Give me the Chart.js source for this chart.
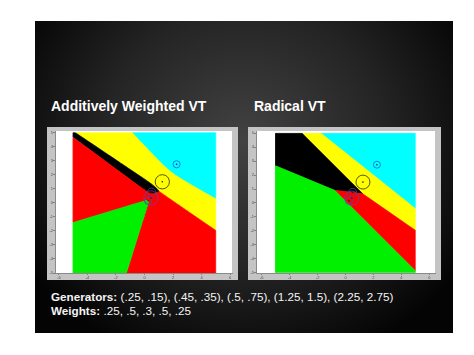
<!DOCTYPE html>
<html><head><meta charset="utf-8">
<script src="https://cdn.jsdelivr.net/npm/chart.js@4.4.1/dist/chart.umd.min.js"></script>
<style>
html,body{margin:0;padding:0;background:#fff;width:474px;height:355px;overflow:hidden;position:relative;}
#slide{position:absolute;left:35px;top:21px;width:418px;height:312px;
 background:radial-gradient(ellipse 62% 75% at 50% 38%, #424242 0%, #242424 55%, #040404 100%);}
.t{position:absolute;color:#fff;font-family:"Liberation Sans",Arial,sans-serif;white-space:nowrap;}
.title{font-weight:bold;font-size:14px;line-height:14px;}
.cap{font-size:11.7px;line-height:14px;color:#f4f4f4;}
canvas{position:absolute;}
</style></head>
<body>
<div id="slide"></div>
<div class="t title" style="left:51px;top:99px;">Additively Weighted VT</div>
<div class="t title" style="left:254px;top:99px;">Radical VT</div>
<div class="t cap" style="left:51px;top:289.6px;"><b>Generators:</b> (.25, .15), (.45, .35), (.5, .75), (1.25, 1.5), (2.25, 2.75)<br><b>Weights:</b> .25, .5, .3, .5, .25</div>
<canvas id="cA" width="191" height="153" style="left:47px;top:127px;"></canvas>
<canvas id="cB" width="193" height="153" style="left:248px;top:127px;"></canvas>
<script>
// ---- data ----
const genX = [0.25, 0.45, 0.5, 1.25, 2.25];
const genY = [0.15, 0.35, 0.75, 1.5, 2.75];
const weights = [0.25, 0.5, 0.3, 0.5, 0.25];
const regionColors = ['#00f000', '#ff0000', '#000000', '#ffff00', '#00ffff'];
const circleColors = ['#4a4ac0', '#7040a0', '#504098', '#2a2a10', '#2a5ae0'];
const xTicks = [-6, -4, -2, 0, 2, 4, 6];
const yTicks = [-5, -4, -3, -2, -1, 0, 1, 2, 3, 4, 5];
const domainMin = -5, domainMax = 5;

// ---- geometry from generators + weights ----
function awOwner(x, y) {
  let best = 0, bv = Infinity;
  for (let i = 0; i < genX.length; i++) {
    const v = Math.hypot(x - genX[i], y - genY[i]) - weights[i];
    if (v < bv) { bv = v; best = i; }
  }
  return best;
}
function rayBox(x, y, dx, dy) {
  let t = Infinity;
  if (dx > 1e-12) t = Math.min(t, (domainMax - x) / dx);
  if (dx < -1e-12) t = Math.min(t, (domainMin - x) / dx);
  if (dy > 1e-12) t = Math.min(t, (domainMax - y) / dy);
  if (dy < -1e-12) t = Math.min(t, (domainMin - y) / dy);
  return t;
}
function awRegion(i) {
  const xi = genX[i], yi = genY[i];
  const N = 1440, angles = [];
  for (let k = 0; k < N; k++) angles.push(2 * Math.PI * k / N);
  [[domainMin, domainMin], [domainMax, domainMin], [domainMax, domainMax], [domainMin, domainMax]].forEach(c => {
    let a = Math.atan2(c[1] - yi, c[0] - xi); if (a < 0) a += 2 * Math.PI; angles.push(a);
  });
  angles.sort((a, b) => a - b);
  const pts = [];
  for (const a of angles) {
    const dx = Math.cos(a), dy = Math.sin(a);
    const tmax = rayBox(xi, yi, dx, dy);
    let r;
    if (awOwner(xi + dx * tmax, yi + dy * tmax) === i) r = tmax;
    else {
      let lo = 0, hi = tmax;
      for (let it = 0; it < 40; it++) {
        const m = (lo + hi) / 2;
        if (awOwner(xi + dx * m, yi + dy * m) === i) lo = m; else hi = m;
      }
      r = lo;
    }
    pts.push({x: xi + dx * r, y: yi + dy * r});
  }
  pts.push(pts[0]);
  return pts;
}
function clipPoly(poly, a, b, c) {
  const out = [];
  for (let k = 0; k < poly.length; k++) {
    const P = poly[k], Q = poly[(k + 1) % poly.length];
    const fp = a * P.x + b * P.y - c, fq = a * Q.x + b * Q.y - c;
    if (fp <= 0) out.push(P);
    if ((fp < 0 && fq > 0) || (fp > 0 && fq < 0)) {
      const t = fp / (fp - fq);
      out.push({x: P.x + t * (Q.x - P.x), y: P.y + t * (Q.y - P.y)});
    }
  }
  return out;
}
function pwRegion(i) {
  let poly = [{x: domainMin, y: domainMin}, {x: domainMax, y: domainMin}, {x: domainMax, y: domainMax}, {x: domainMin, y: domainMax}];
  const pi = genX[i] * genX[i] + genY[i] * genY[i] - weights[i] * weights[i];
  for (let j = 0; j < genX.length; j++) {
    if (j === i) continue;
    const pj = genX[j] * genX[j] + genY[j] * genY[j] - weights[j] * weights[j];
    poly = clipPoly(poly, 2 * (genX[j] - genX[i]), 2 * (genY[j] - genY[i]), pj - pi);
    if (!poly.length) break;
  }
  if (poly.length) poly.push(poly[0]);
  return poly;
}

const bgPlugin = {
  id: 'bg',
  beforeDraw(chart) {
    const {ctx, chartArea: a} = chart;
    ctx.save();
    ctx.fillStyle = '#c4c4c4';
    ctx.fillRect(0, 0, chart.width, chart.height);
    ctx.fillStyle = '#ffffff';
    ctx.fillRect(a.left, a.top, a.right - a.left, a.bottom - a.top);
    ctx.restore();
  }
};

function makeChart(id, regionFn, xr, yr, pad) {
  const gens = genX.map((x, i) => ({x, y: genY[i]}));
  const datasets = [];
  for (let i = 0; i < genX.length; i++) {
    datasets.push({
      data: regionFn(i), showLine: true, fill: 'shape',
      backgroundColor: regionColors[i], borderColor: regionColors[i], borderWidth: 0.6,
      pointRadius: 0, tension: 0, order: 5
    });
  }
  datasets.push({
    data: gens, showLine: false, order: 1,
    pointRadius: (ctx) => {
      const s = ctx.chart.scales.x;
      return Math.abs(s.getPixelForValue(weights[ctx.dataIndex]) - s.getPixelForValue(0));
    },
    pointBorderColor: circleColors, pointBackgroundColor: 'rgba(0,0,0,0)', pointBorderWidth: 0.8
  });
  datasets.push({
    data: gens, showLine: false, order: 0,
    pointRadius: 0.8, pointBackgroundColor: '#202020', pointBorderWidth: 0
  });
  const tickFont = {size: 4, family: 'Liberation Sans'};
  return new Chart(document.getElementById(id), {
    type: 'scatter',
    data: {datasets},
    options: {
      responsive: false, animation: false, events: [],
      layout: {padding: {left: 0, top: pad.top, right: pad.right, bottom: 0}},
      plugins: {legend: {display: false}, tooltip: {enabled: false}},
      scales: {
        x: {
          type: 'linear', min: xr[0], max: xr[1],
          afterBuildTicks: s => { s.ticks = xTicks.map(v => ({value: v})); },
          afterFit: s => { s.height = pad.bottom; },
          ticks: {font: tickFont, color: '#505050', padding: 0, autoSkip: false, maxRotation: 0},
          grid: {display: true, drawOnChartArea: false, tickLength: 2, color: '#808080'},
          border: {display: true, color: '#8a8a8a'}
        },
        y: {
          type: 'linear', min: yr[0], max: yr[1],
          afterBuildTicks: s => { s.ticks = yTicks.map(v => ({value: v})); },
          afterFit: s => { s.width = pad.left; },
          ticks: {font: tickFont, color: '#505050', padding: 0, autoSkip: false},
          grid: {display: true, drawOnChartArea: false, tickLength: 2, color: '#808080'},
          border: {display: true, color: '#8a8a8a'}
        }
      }
    },
    plugins: [bgPlugin]
  });
}

makeChart('cA', awRegion, [-6.28, 6.14], [-5.0, 5.12], {left: 8, top: 3, right: 6, bottom: 7});
makeChart('cB', pwRegion, [-6.41, 6.41], [-5.03, 5.17], {left: 8, top: 4, right: 6, bottom: 7});
</script>
</body></html>
